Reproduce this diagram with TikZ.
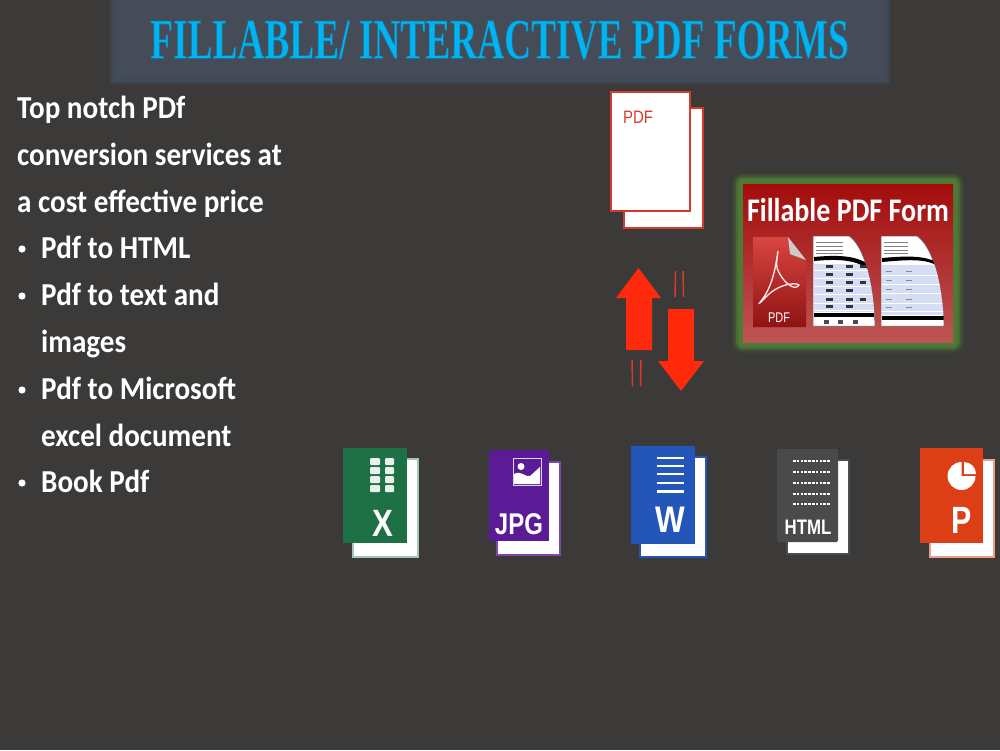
\documentclass[tikz,border=0pt]{standalone}
\usepackage{fontspec}
\setmainfont{Carlito}
\newfontfamily\titlefont[FakeBold=1.3]{Liberation Serif Bold}
\newfontfamily\labelfont{Liberation Sans}
\usetikzlibrary{calc}
\definecolor{bgc}{HTML}{3B3A39}
\definecolor{panelc}{HTML}{454C58}
\definecolor{panelg}{HTML}{3F4A58}
\definecolor{titlec}{HTML}{00B4F2}
\definecolor{cardtop}{HTML}{A30C0C}
\definecolor{cardbot}{HTML}{BE5555}
\definecolor{glow}{HTML}{4F7A35}
\definecolor{arrowc}{HTML}{FF2A0C}
\definecolor{pdfline}{HTML}{D63A2B}
\definecolor{formblue}{HTML}{D5DEF5}
\tikzset{
  x=1pt,y=-1pt,
  body/.style={anchor=base west,inner sep=0pt,text=white,xscale=.91,font=\fontsize{32}{32}\selectfont\bfseries},
  bulletmark/.style={fill=white,draw=none},
  titletext/.style={anchor=center,inner sep=0pt,font=\fontsize{53}{53}\selectfont\titlefont,xscale=.705,yscale=1.08},
  back/.style={fill=white,draw=#1,line width=1.4pt},
  redarrow/.style={fill=arrowc,draw=none},
  tick/.style={draw=pdfline,line width=1.5pt},
  rule/.style={fill=black,draw=none},
  field/.style={fill=formblue,draw=none},
  formpage/.style={fill=white,draw=black!60,line width=.5pt},
  iconlabel/.style n args={3}{anchor=center,inner sep=0pt,text=white,xscale=#2,font=\labelfont\bfseries\fontsize{#1}{#1}\selectfont,#3}
}
\begin{document}
\begin{tikzpicture}
\useasboundingbox (0,0) rectangle (1000,750);
\fill[bgc] (0,0) rectangle (1000,750);
% title panel
\fill[panelg!55!bgc] (110,0) rectangle (890,84);
\fill[panelg] (112,0) rectangle (888,82);
\fill[panelc] (116,0) rectangle (884,78);
\node[titletext] (title) at (499.5,40) {\color{titlec}\special{pdf:code 0.11 0.44 0.58 RG}FILLABLE/ INTERACTIVE PDF FORMS};
% body text
\node[body] (l1) at (17,118) {Top notch PDf};
\node[body] (l2) at (17,165) {conversion services at};
\node[body] (l3) at (17,212) {a cost effective price};
\fill[bulletmark] (22,249) circle (3.6);
\node[body] (l4) at (41,258) {Pdf to HTML};
\fill[bulletmark] (22,296) circle (3.6);
\node[body] (l5) at (41,305) {Pdf to text and};
\node[body] (l6) at (41,352) {images};
\fill[bulletmark] (22,390) circle (3.6);
\node[body] (l7) at (41,399) {Pdf to Microsoft};
\node[body] (l8) at (41,446) {excel document};
\fill[bulletmark] (22,483) circle (3.6);
\node[body] (l9) at (41,492) {Book Pdf};
% PDF icon
\draw[back=pdfline] (624,108) rectangle (703,228);
\draw[fill=white,draw=pdfline,line width=2.2pt] (611,92) rectangle (690,211);
\node[inner sep=0pt,text=pdfline,xscale=.83,font=\labelfont\fontsize{18}{18}\selectfont] (pdflabel) at (638,117) {PDF};
% arrows
\path[redarrow] (638.5,268) -- (661,298) -- (652,298) -- (652,350) -- (626,350) -- (626,298) -- (616,298) -- cycle;
\path[redarrow] (668,309) -- (694,309) -- (694,361) -- (704,361) -- (681,391) -- (658,361) -- (668,361) -- cycle;
\draw[tick] (675.5,271) -- (675,297) (683,271) -- (683.5,297);
\draw[tick] (632,360) -- (632.5,386) (641,360) -- (640.5,386);
% fillable card
\foreach \d/\o in {11/.12,9/.3,7/.6,5/.9,3/1}{
  \fill[glow,opacity=\o,rounded corners=\d pt] (743-\d,184-\d) rectangle (953+\d,342+\d);
}
\shade[top color=cardtop,bottom color=cardbot] (743,184) rectangle (953,342);
\node[inner sep=0pt,text=white,xscale=.85,font=\fontsize{33}{33}\selectfont\bfseries] (cardtitle) at (848,210) {Fillable PDF Form};
% acrobat icon
\definecolor{acrotop}{HTML}{D9453F}
\definecolor{acrobot}{HTML}{8E1414}
\shade[top color=acrotop,bottom color=acrobot] (753,237) -- (788,237) -- (806,260) -- (806,327) -- (753,327) -- cycle;
\fill[white!80!black] (788,237) -- (806,260) -- (790,254) -- cycle;
\draw[white!92!red,line width=1.3pt] (778,251) .. controls (776,262) and (774,285) .. (761,301) .. controls (758,305) and (760,303) .. (766,297) .. controls (778,284) and (795,282) .. (799,285) .. controls (795,292) and (782,282) .. (777,268) .. controls (776,258) and (778,256) .. (778,251);
\node[inner sep=0pt,text=white,xscale=.78,font=\labelfont\fontsize{14}{14}\selectfont] (acrolabel) at (779,318) {PDF};
% forms
\draw[formpage] (813,236) -- (849,236) .. controls (862,245) and (873,275) .. (875,326) -- (813,326) -- cycle;
\begin{scope}
\clip (813,236) -- (849,236) .. controls (862,245) and (873,275) .. (875,326) -- (813,326) -- cycle;
\fill[field] (814,264) rectangle (875,312);
\fill[rule] (814,261) .. controls (835,259) and (855,259) .. (868,269) -- (868,264) .. controls (855,255) and (835,255) .. (814,257) -- cycle;
\fill[rule] (814,313) rectangle (875,317);
\foreach \yy in {270,278,286,294,303,310}{
  \draw[white,line width=1pt] (814,\yy) -- (875,\yy);
  \fill[black!80] (826,\yy-5) rectangle (833,\yy-2);
  \fill[black!80] (846,\yy-5) rectangle (853,\yy-2);
}
\foreach \yy in {270,286,303}{\fill[black!80] (860,\yy-5) rectangle (866,\yy-2);}
\foreach \yy in {242,246,250,253}{\draw[black!50,line width=.5pt] (816,\yy) -- (843,\yy);}
\foreach \xx in {824,838,853}{\fill[black!70] (\xx,320) rectangle (\xx+5,324);}
\end{scope}
\draw[formpage] (881,236) -- (917,236) .. controls (930,245) and (942,275) .. (944,326) -- (881,326) -- cycle;
\begin{scope}
\clip (881,236) -- (917,236) .. controls (930,245) and (942,275) .. (944,326) -- (881,326) -- cycle;
\fill[field] (882,265) rectangle (944,315);
\fill[rule] (882,262) .. controls (905,260) and (925,258) .. (938,266) -- (938,263) .. controls (925,255) and (905,256) .. (882,258) -- cycle;
\fill[rule] (882,316) rectangle (944,320);
\foreach \yy in {275,284,293,303,311}{
  \draw[white,line width=.8pt] (882,\yy) -- (944,\yy);
  \fill[black!45] (886,\yy-4) rectangle (892,\yy-3);
  \fill[black!45] (906,\yy-4) rectangle (912,\yy-3);
}
\foreach \yy in {242,246,250,253}{\draw[black!50,line width=.5pt] (884,\yy) -- (908,\yy);}
\end{scope}
% Excel
\definecolor{xl}{HTML}{1E7145}
\draw[back=xl!40!white] (353,459) rectangle (418,557);
\fill[xl] (343,448) rectangle (407,543);
\foreach \yy in {458,467,476,485}{
  \fill[white!90!xl,rounded corners=1pt] (370,\yy) rectangle (380,\yy+7);
  \fill[white!90!xl,rounded corners=1pt] (385,\yy) rectangle (394,\yy+7);
}
\node[iconlabel={38}{.82}{}] (xllabel) at (382.5,523) {X};
% JPG
\definecolor{jp}{HTML}{5B1A96}
\draw[back=jp!80!white] (497,462) rectangle (560,555);
\fill[jp] (489,450) rectangle (549,541);
\draw[white!80!jp,line width=1pt] (513,458) rectangle (541,485);
\fill[white] (514,484) -- (514,474) .. controls (522,470) and (526,478) .. (530,476) -- (540,467) -- (540,484) -- cycle;
\fill[white] (521,466.5) circle (3.5);
\node[iconlabel={30}{.8}{}] (jplabel) at (519,524) {JPG};
% Word
\definecolor{wd}{HTML}{2455B8}
\draw[back=wd] (640,457) rectangle (706,557);
\fill[wd] (631,446) rectangle (695,544);
\foreach \yy in {458,466,474,483,491.5}{\draw[white,line width=2.6pt] (657,\yy) -- (684,\yy);}
\node[iconlabel={37}{.85}{}] (wdlabel) at (670,520) {W};
% HTML
\definecolor{ht}{HTML}{4A4A4A}
\draw[back=black!70] (787,460) rectangle (849,554);
\fill[ht,rounded corners=1.5pt] (777,449) rectangle (838,542);
\foreach \yy in {461,472,483,494,504}{\draw[white,line width=2.6pt,dash pattern=on 2.6pt off 1.2pt] (793,\yy) -- (830,\yy);}
\node[iconlabel={21}{.8}{}] (htlabel) at (808,527) {HTML};
% PowerPoint
\definecolor{pp}{HTML}{DC3E15}
\draw[back=pp!50!white] (930,460) rectangle (994,557);
\fill[pp] (920,448) rectangle (983,543);
\fill[white] (961.5,476) -- (961.5,462) arc[start angle=90,end angle=360,x radius=14,y radius=-14] -- cycle;
\fill[white] (964,462) -- (964,474) -- (976,474) arc[start angle=0,end angle=90,x radius=12,y radius=-12] -- cycle;
\node[iconlabel={38}{.8}{}] (pplabel) at (962,520) {P};
\end{tikzpicture}
\end{document}
